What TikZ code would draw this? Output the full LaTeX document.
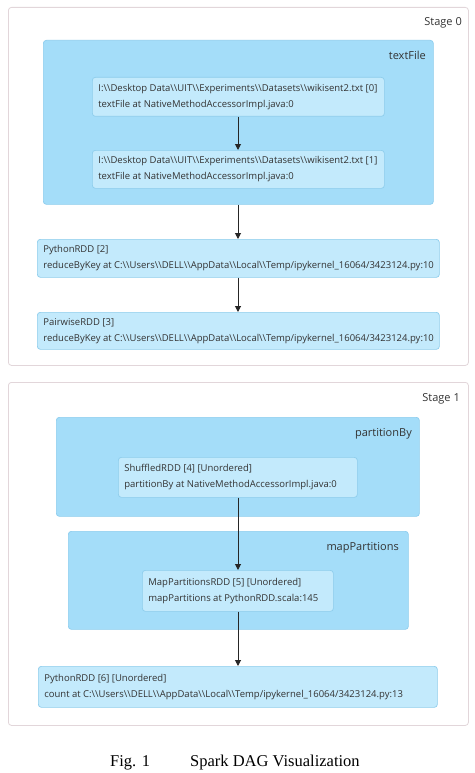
\documentclass[tikz,border=0pt]{standalone}
\usepackage{fontspec}
\setmainfont{Open Sans}
\newfontfamily\capfont{Liberation Serif}
\usetikzlibrary{arrows.meta}
\definecolor{stageborder}{HTML}{E2D6DA}
\definecolor{clusterfill}{HTML}{A4DDF9}
\definecolor{clusterborder}{HTML}{8DCDEE}
\definecolor{rddfill}{HTML}{C3EAFC}
\definecolor{rddborder}{HTML}{8ECDEC}
\definecolor{txt}{HTML}{333333}
\tikzset{
  stagebox/.style={draw=stageborder, fill=white, line width=0.8pt, rounded corners=3pt},
  clusterbox/.style={draw=clusterborder, fill=clusterfill, line width=0.7pt, rounded corners=3pt},
  rddbox/.style={draw=rddborder, fill=rddfill, line width=0.7pt, rounded corners=3pt, anchor=north west, inner sep=0pt, align=left, text=txt, font=\fontsize{9.5}{16}\selectfont},
  stagelabel/.style={anchor=east, text=txt, font=\fontsize{11}{13}\selectfont, inner sep=0pt},
  clusterlabel/.style={anchor=east, text=txt, font=\fontsize{11}{13}\selectfont, inner sep=0pt},
  flow/.style={-{Triangle[length=6pt,width=6pt]}, line width=1pt, draw=black!85},
}
\begin{document}
\begin{tikzpicture}[x=1pt,y=-1pt]
\useasboundingbox (0,0) rectangle (474,773);
% Stage 0
\node[stagebox, anchor=north west, minimum width=460pt, minimum height=358pt, inner sep=0pt] (s0) at (8,7) {};
\node[stagelabel] (s0l) at (462,23) {Stage 0};
\node[clusterbox, anchor=north west, minimum width=390pt, minimum height=164pt, inner sep=0pt] (c0) at (43,40) {};
\node[clusterlabel] (c0l) at (426,55) {textFile};
\node[rddbox, minimum width=292pt, minimum height=39pt] (n0) at (92,77) {\hspace*{5pt}\parbox{285pt}{I:\textbackslash\textbackslash Desktop Data\textbackslash\textbackslash UIT\textbackslash\textbackslash Experiments\textbackslash\textbackslash Datasets\textbackslash\textbackslash wikisent2.txt [0]\\textFile at NativeMethodAccessorImpl.java:0}};
\node[rddbox, minimum width=292pt, minimum height=38pt] (n1) at (92,150) {\hspace*{5pt}\parbox{285pt}{I:\textbackslash\textbackslash Desktop Data\textbackslash\textbackslash UIT\textbackslash\textbackslash Experiments\textbackslash\textbackslash Datasets\textbackslash\textbackslash wikisent2.txt [1]\\textFile at NativeMethodAccessorImpl.java:0}};
\node[rddbox, minimum width=402pt, minimum height=38pt] (n2) at (37,239) {\hspace*{5pt}\parbox{395pt}{PythonRDD [2]\\reduceByKey at C:\textbackslash\textbackslash Users\textbackslash\textbackslash DELL\textbackslash\textbackslash AppData\textbackslash\textbackslash Local\textbackslash\textbackslash Temp/ipykernel\_16064/3423124.py:10}};
\node[rddbox, minimum width=402pt, minimum height=37pt] (n3) at (37,312) {\hspace*{5pt}\parbox{395pt}{PairwiseRDD [3]\\reduceByKey at C:\textbackslash\textbackslash Users\textbackslash\textbackslash DELL\textbackslash\textbackslash AppData\textbackslash\textbackslash Local\textbackslash\textbackslash Temp/ipykernel\_16064/3423124.py:10}};
\draw[flow] (n0.south -| 238,0) -- (n1.north -| 238,0);
\draw[flow] (c0.south -| 238,0) -- (n2.north -| 238,0);
\draw[flow] (n2.south -| 238,0) -- (n3.north -| 238,0);
% Stage 1
\node[stagebox, anchor=north west, minimum width=460pt, minimum height=343pt, inner sep=0pt] (s1) at (8,382) {};
\node[stagelabel] (s1l) at (460,399) {Stage 1};
\node[clusterbox, anchor=north west, minimum width=363pt, minimum height=99pt, inner sep=0pt] (c1) at (56,417) {};
\node[clusterlabel] (c1l) at (412,434) {partitionBy};
\node[rddbox, minimum width=239pt, minimum height=40pt] (n4) at (118,457) {\hspace*{5pt}\parbox{232pt}{ShuffledRDD [4] [Unordered]\\partitionBy at NativeMethodAccessorImpl.java:0}};
\node[clusterbox, anchor=north west, minimum width=340pt, minimum height=98pt, inner sep=0pt] (c2) at (68,531) {};
\node[clusterlabel] (c2l) at (399,548) {mapPartitions};
\node[rddbox, minimum width=191pt, minimum height=41pt] (n5) at (142,570) {\hspace*{5pt}\parbox{184pt}{MapPartitionsRDD [5] [Unordered]\\mapPartitions at PythonRDD.scala:145}};
\node[rddbox, minimum width=399pt, minimum height=41pt] (n6) at (38,666) {\hspace*{5pt}\parbox{392pt}{PythonRDD [6] [Unordered]\\count at C:\textbackslash\textbackslash Users\textbackslash\textbackslash DELL\textbackslash\textbackslash AppData\textbackslash\textbackslash Local\textbackslash\textbackslash Temp/ipykernel\_16064/3423124.py:13}};
\draw[flow] (n4.south -| 238,0) -- (n5.north -| 238,0);
\draw[flow] (n5.south -| 238,0) -- (n6.north -| 238,0);
% caption
\node[anchor=west, inner sep=0pt, font=\capfont\fontsize{16.5}{18}\selectfont] (cap1) at (110,763) {Fig. 1};
\node[anchor=west, inner sep=0pt, font=\capfont\fontsize{16.5}{18}\selectfont] (cap2) at (190,763) {Spark DAG Visualization};
\end{tikzpicture}
\end{document}
